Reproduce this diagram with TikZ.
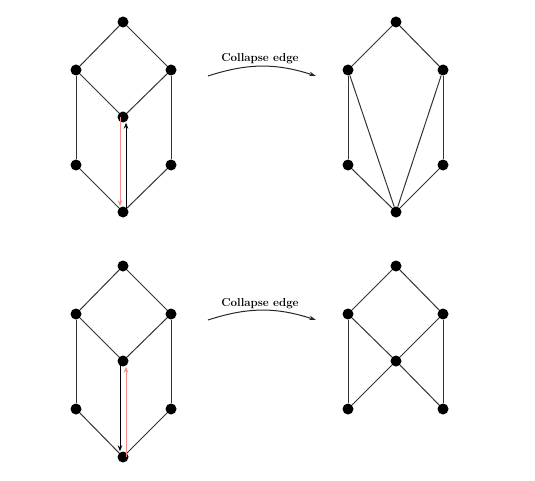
\documentclass[tikz,border=0pt]{standalone}
\usetikzlibrary{arrows.meta}
\begin{document}
\begin{tikzpicture}[
    x=1pt, y=-1pt,
    every node/.style={font=\fontsize{11.5}{13}\selectfont\bfseries}
]

% Styles
\tikzset{
    vert/.style={circle, fill=black, inner sep=0pt, minimum size=11pt},
    edge/.style={line width=1pt, black!80},
    dart/.style={line width=1pt, -{Stealth[length=6pt,width=4.5pt]}},
    collapse/.style={line width=1pt, black!85, -{Stealth[length=7pt,width=4.5pt]}, bend left=18}
}
\definecolor{halfred}{RGB}{250,140,140}

\useasboundingbox (0,0) rectangle (535,481);

% Top left graph
\node[vert] (a1) at (123,22) {};
\node[vert] (a2) at (76,70) {};
\node[vert] (a3) at (171,70) {};
\node[vert] (a4) at (123,117) {};
\node[vert] (a5) at (76,165) {};
\node[vert] (a6) at (171,165) {};
\node[vert] (a7) at (123,212) {};
\foreach \u/\v in {a1/a2, a1/a3, a2/a4, a3/a4, a2/a5, a3/a6, a5/a7, a6/a7}
    \draw[edge] (\u) -- (\v);
\draw[dart, black] ([xshift=3pt]a7.center) -- ([xshift=3pt]a4.south);
\draw[dart, halfred] ([xshift=-3pt]a4.center) -- ([xshift=-3pt]a7.north);

% Top right graph
\node[vert] (b1) at (396,22) {};
\node[vert] (b2) at (348,70) {};
\node[vert] (b3) at (443,70) {};
\node[vert] (b5) at (348,165) {};
\node[vert] (b6) at (443,165) {};
\node[vert] (b7) at (396,212) {};
\foreach \u/\v in {b1/b2, b1/b3, b2/b5, b3/b6, b5/b7, b6/b7, b2/b7, b3/b7}
    \draw[edge] (\u) -- (\v);

% Top arrow
\coordinate (s1) at (208,76);
\coordinate (e1) at (316,76);
\draw[collapse] (s1) to (e1);
\node (t1) at (260,59) {Collapse edge};

% Bottom left graph
\node[vert] (c1) at (123,266) {};
\node[vert] (c2) at (76,314) {};
\node[vert] (c3) at (171,314) {};
\node[vert] (c4) at (123,361) {};
\node[vert] (c5) at (76,409) {};
\node[vert] (c6) at (171,409) {};
\node[vert] (c7) at (123,457) {};
\foreach \u/\v in {c1/c2, c1/c3, c2/c4, c3/c4, c2/c5, c3/c6, c5/c7, c6/c7}
    \draw[edge] (\u) -- (\v);
\draw[dart, black] ([xshift=-3pt]c4.center) -- ([xshift=-3pt]c7.north);
\draw[dart, halfred] ([xshift=3pt]c7.center) -- ([xshift=3pt]c4.south);

% Bottom right graph
\node[vert] (d1) at (396,266) {};
\node[vert] (d2) at (348,314) {};
\node[vert] (d3) at (443,314) {};
\node[vert] (d4) at (396,361) {};
\node[vert] (d5) at (348,409) {};
\node[vert] (d6) at (443,409) {};
\foreach \u/\v in {d1/d2, d1/d3, d2/d4, d3/d4, d2/d5, d3/d6, d5/d4, d6/d4}
    \draw[edge] (\u) -- (\v);

% Bottom arrow
\coordinate (s2) at (208,320);
\coordinate (e2) at (316,320);
\draw[collapse] (s2) to (e2);
\node (t2) at (260,304) {Collapse edge};

\end{tikzpicture}
\end{document}
